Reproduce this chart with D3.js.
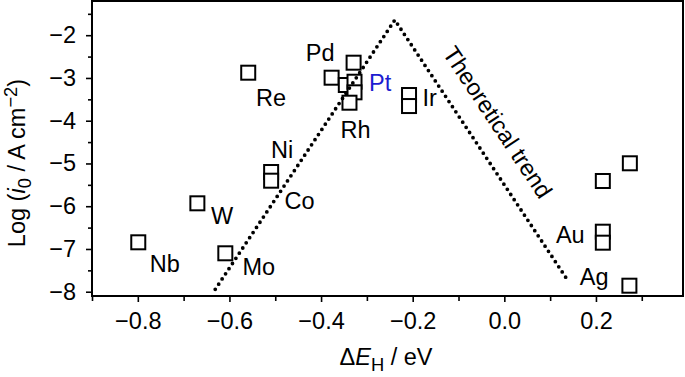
<!DOCTYPE html>
<html>
<head>
<meta charset="utf-8">
<script src="https://cdn.jsdelivr.net/npm/d3@7"></script>
<style>
  body { margin: 0; background: #fff; }
  svg { display: block; font-family: "Liberation Sans", Arial, Helvetica, sans-serif; }
</style>
</head>
<body>
<div id="chart"></div>
<script>
// ---- data ----
// measured points (ΔE_H in eV, log i0)
const pointX = [-0.799, -0.670, -0.609, -0.509, -0.509, -0.559, -0.377, -0.346,
  -0.329, -0.327, -0.327, -0.338, -0.208, -0.208, 0.274, 0.215, 0.215, 0.215, 0.273];
const pointY = [-6.844, -5.932, -7.101, -5.200, -5.403, -2.877, -2.994, -3.165,
  -2.643, -3.088, -3.336, -3.579, -3.399, -3.657, -4.996, -5.410, -6.596, -6.853, -7.859];

// theoretical volcano (dotted)
const trendX = [-0.631, -0.239, 0.138];
const trendY = [-7.943, -1.644, -7.726];

// element labels
const labelText = ["Nb", "W", "Mo", "Ni", "Co", "Re", "Pd", "Pt", "Rh", "Ir", "Au", "Ag"];
const labelX = [-0.741, -0.616, -0.536, -0.485, -0.447, -0.509, -0.402, -0.271, -0.325, -0.163, 0.144, 0.196];
const labelY = [-7.335, -6.222, -7.415, -4.685, -5.871, -3.469, -2.405, -3.111, -4.217, -3.469, -6.673, -7.649];

const trendLabel = "Theoretical trend";
const trendLabelX = -0.014;
const trendLabelY = -4.03;

const xTicks = [-0.8, -0.6, -0.4, -0.2, 0.0, 0.2];
const xMinor = [-0.9, -0.7, -0.5, -0.3, -0.1, 0.1, 0.3];
const yTicks = [-8, -7, -6, -5, -4, -3, -2];
const yMinor = [-7.5, -6.5, -5.5, -4.5, -3.5, -2.5, -1.5];

// ---- layout ----
const width = 685, height = 377;
const box = { left: 92, right: 683, top: 1, bottom: 296 };
const FS = 23.5;
const SUB = FS * 0.78;
const BLUE = "#1c1cd0";

const x = d3.scaleLinear().domain([-0.9, 0.39]).range([box.left, box.right]);
const y = d3.scaleLinear().domain([-8.1, -1.2]).range([box.bottom, box.top]);

const svg = d3.select("#chart").append("svg")
  .attr("width", width).attr("height", height)
  .attr("viewBox", `0 0 ${width} ${height}`);

// ---- axes ----
const fmt = d3.format(".1f");
svg.append("g").attr("transform", `translate(0,${box.bottom})`)
  .call(d3.axisBottom(x).tickValues(xTicks).tickFormat(fmt).tickSize(6).tickPadding(10));
svg.append("g").attr("transform", `translate(0,${box.bottom})`)
  .call(d3.axisBottom(x).tickValues(xMinor).tickFormat("").tickSize(5));
svg.append("g").attr("transform", `translate(${box.left},0)`)
  .call(d3.axisLeft(y).tickValues(yTicks).tickFormat(d3.format("d")).tickSize(6).tickPadding(10));
svg.append("g").attr("transform", `translate(${box.left},0)`)
  .call(d3.axisLeft(y).tickValues(yMinor).tickFormat("").tickSize(4));

svg.selectAll(".domain").remove();
svg.selectAll(".tick line").attr("stroke", "#000").attr("stroke-width", 1.6);
svg.selectAll(".tick text").attr("font-size", FS).attr("fill", "#000");
svg.selectAll("g").attr("font-family", null).attr("font-size", null);

// frame
svg.append("rect")
  .attr("x", box.left).attr("y", box.top)
  .attr("width", box.right - box.left).attr("height", box.bottom - box.top)
  .attr("fill", "none").attr("stroke", "#000").attr("stroke-width", 2);

// axis titles
svg.append("text")
  .attr("x", 386).attr("y", 365)
  .attr("text-anchor", "middle").attr("font-size", FS)
  .call((t) => {
    t.append("tspan").text("Δ");
    t.append("tspan").attr("font-style", "italic").text("E");
    t.append("tspan").attr("font-size", SUB).attr("dy", 6).text("H");
    t.append("tspan").attr("dy", -6).text(" / eV");
  });

svg.append("text")
  .attr("transform", `translate(25,163) rotate(-90)`)
  .attr("text-anchor", "middle").attr("font-size", FS)
  .call((t) => {
    t.append("tspan").text("Log (");
    t.append("tspan").attr("font-style", "italic").text("i");
    t.append("tspan").attr("font-size", SUB).attr("dy", 6).text("0");
    t.append("tspan").attr("dy", -6).text(" / A cm");
    t.append("tspan").attr("font-size", SUB).attr("dy", -8).text("−2");
    t.append("tspan").attr("dy", 8).text(")");
  });

// ---- points ----
const S = 14;
svg.append("g")
  .selectAll("rect")
  .data(d3.range(pointX.length))
  .join("rect")
  .attr("x", (i) => x(pointX[i]) - S / 2)
  .attr("y", (i) => y(pointY[i]) - S / 2)
  .attr("width", S).attr("height", S)
  .attr("fill", "#fff").attr("stroke", "#000").attr("stroke-width", 2);

// ---- theoretical trend ----
svg.append("path")
  .datum(d3.range(trendX.length))
  .attr("d", d3.line().x((i) => x(trendX[i])).y((i) => y(trendY[i])))
  .attr("fill", "none").attr("stroke", "#000")
  .attr("stroke-width", 3.8).attr("stroke-linecap", "round")
  .attr("stroke-dasharray", "0,6.2");

const ang = Math.atan2(y(trendY[2]) - y(trendY[1]), x(trendX[2]) - x(trendX[1])) * 180 / Math.PI;
svg.append("text")
  .attr("transform", `translate(${x(trendLabelX)},${y(trendLabelY)}) rotate(${ang})`)
  .attr("text-anchor", "middle").attr("dy", "0.36em")
  .attr("font-size", FS)
  .text(trendLabel);

// ---- labels ----
svg.append("g")
  .selectAll("text")
  .data(labelText)
  .join("text")
  .attr("x", (d, i) => x(labelX[i]))
  .attr("y", (d, i) => y(labelY[i]))
  .attr("dy", "0.36em")
  .attr("text-anchor", "middle")
  .attr("font-size", FS)
  .attr("fill", (d) => (d === "Pt" ? BLUE : "#000"))
  .text((d) => d);
</script>
</body>
</html>
